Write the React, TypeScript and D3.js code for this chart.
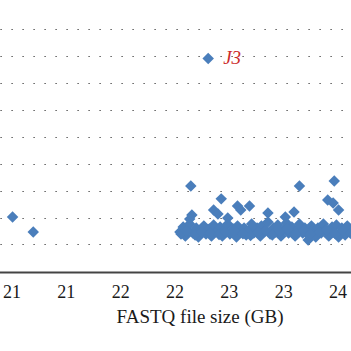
import React, { useEffect, useRef } from "react";
import * as d3 from "d3";

// x = FASTQ file size (GB), y = value (gridline units)
const sizeGB: number[] = [
  20.76, 20.95, 22.56,
  22.4, 23.4, 23.72, 22.68, 22.61, 22.83, 22.94, 22.86, 22.41, 23.66, 23.71,
  23.76, 23.35, 23.11, 22.74, 23.27, 23.48, 23.76, 22.39, 22.65,
  22.3, 22.33, 22.35, 22.37, 22.39, 22.42, 22.45, 22.47, 22.49, 22.52, 22.54,
  22.57, 22.59, 22.61, 22.64, 22.67, 22.69, 22.71, 22.74, 22.76, 22.79, 22.82,
  22.83, 22.86, 22.89, 22.91, 22.94, 22.96, 22.98, 23.01, 23.04, 23.05, 23.08,
  23.11, 23.13, 23.16, 23.18, 23.2, 23.23, 23.26, 23.28, 23.3, 23.33, 23.36,
  23.38, 23.4, 23.43, 23.45, 23.48, 23.51, 23.52, 23.55, 23.57, 23.6, 23.62,
  23.64, 23.67, 23.7, 23.72, 23.74, 23.77, 23.79, 23.82, 23.84, 23.86,
  22.31, 22.36, 22.44, 22.5, 22.58, 22.66, 22.72, 22.8, 22.88, 22.95,
  23.02, 23.09, 23.15, 23.22, 23.29, 23.37, 23.44, 23.5, 23.58, 23.65,
  23.73, 23.8, 23.87,
];
const values: number[] = [
  2.02, 1.46, 7.89,
  3.17, 3.17, 3.35, 2.69, 2.28, 2.43, 2.43, 2.28, 2.09, 2.65, 2.54,
  2.28, 2.2, 2.17, 1.98, 2.02, 1.17, 1.28, 1.94, 2.13,
  1.46, 1.65, 1.31, 1.54, 1.76, 1.43, 1.61, 1.28, 1.5, 1.69, 1.39,
  1.57, 1.31, 1.72, 1.5, 1.65, 1.31, 1.5, 1.76, 1.39, 1.57, 1.28,
  1.69, 1.46, 1.61, 1.35, 1.54, 1.76, 1.43, 1.61, 1.31, 1.69, 1.5,
  1.83, 1.39, 1.61, 1.46, 1.72, 1.31, 1.57, 1.8, 1.43, 1.65, 1.31,
  1.54, 1.76, 1.43, 1.61, 1.35, 1.69, 1.5, 1.28, 1.61, 1.43, 1.76,
  1.54, 1.31, 1.65, 1.46, 1.72, 1.43, 1.61, 1.35, 1.69, 1.5,
  1.39, 1.5, 1.35, 1.46, 1.42, 1.37, 1.46, 1.52, 1.4, 1.33,
  1.46, 1.52, 1.35, 1.48, 1.57, 1.4, 1.5, 1.39, 1.46, 1.54,
  1.4, 1.5, 1.42,
];
const labelIndex = 2;
const labelText = "J3";
const xTicks: number[] = [20.75, 21.25, 21.75, 22.25, 22.75, 23.25, 23.75];
const yGrid: number[] = [1, 2, 3, 4, 5, 6, 7, 8, 9];
const xTitle = "FASTQ file size (GB)";

const App: React.FC = () => {
  const svgRef = useRef<SVGSVGElement | null>(null);

  useEffect(() => {
    const width = 351;
    const height = 351;
    const svg = d3.select(svgRef.current);
    svg.selectAll("*").remove();

    const x = d3
      .scaleLinear()
      .domain([20.75, 23.75])
      .range([11.5, 337.5]);
    const y = d3.scaleLinear().domain([0, 9]).range([271.5, 28.5]);

    // dotted gridlines
    svg
      .append("g")
      .selectAll("line")
      .data(yGrid)
      .enter()
      .append("line")
      .attr("x1", 0)
      .attr("x2", width)
      .attr("y1", (d) => Math.round(y(d)) + 0.5)
      .attr("y2", (d) => Math.round(y(d)) + 0.5)
      .attr("stroke", "#333")
      .attr("stroke-width", 1)
      .attr("stroke-dasharray", "1.2 9.8")
      .attr("stroke-dashoffset", -0.5);

    // x axis
    const gx = svg
      .append("g")
      .attr("transform", `translate(0,${y(0) + 1})`)
      .call(
        d3
          .axisBottom(x)
          .tickValues(xTicks)
          .tickFormat(d3.format(".0f"))
          .tickSize(0)
          .tickPadding(13),
      );
    gx.select(".domain").remove();
    gx.selectAll("text")
      .attr("fill", "#1a1a1a")
      .style("font-family", "'Liberation Serif', serif")
      .style("font-size", "18px");
    svg
      .append("line")
      .attr("x1", 0)
      .attr("x2", width)
      .attr("y1", y(0) + 1)
      .attr("y2", y(0) + 1)
      .attr("stroke", "#444")
      .attr("stroke-width", 2);

    svg
      .append("text")
      .attr("x", 200)
      .attr("y", 323)
      .attr("text-anchor", "middle")
      .attr("fill", "#1a1a1a")
      .style("font-family", "'Liberation Serif', serif")
      .style("font-size", "19px")
      .text(xTitle);

    // points
    const diamond = d3.symbol().type(d3.symbolSquare).size(66);
    svg
      .append("g")
      .selectAll("path")
      .data(sizeGB.map((s, i) => [s, values[i]]))
      .enter()
      .append("path")
      .attr("d", diamond)
      .attr(
        "transform",
        (d) => `translate(${x(d[0])},${y(d[1])}) rotate(45)`,
      )
      .attr("fill", "#4a7ebb");

    svg
      .append("text")
      .attr("x", x(sizeGB[labelIndex]) + 15)
      .attr("y", y(values[labelIndex]) + 6)
      .attr("fill", "#cc2b2b")
      .style("font-family", "'Liberation Serif', serif")
      .style("font-style", "italic")
      .style("font-size", "19px")
      .text(labelText);

    svg.attr("viewBox", [0, 0, width, height]);
  }, []);

  return (
    <div style={{ position: "absolute", left: 0, top: 0 }}>
      <svg
        ref={svgRef}
        width={351}
        height={351}
        style={{ display: "block", background: "#fff" }}
      ></svg>
    </div>
  );
};

export default App;
